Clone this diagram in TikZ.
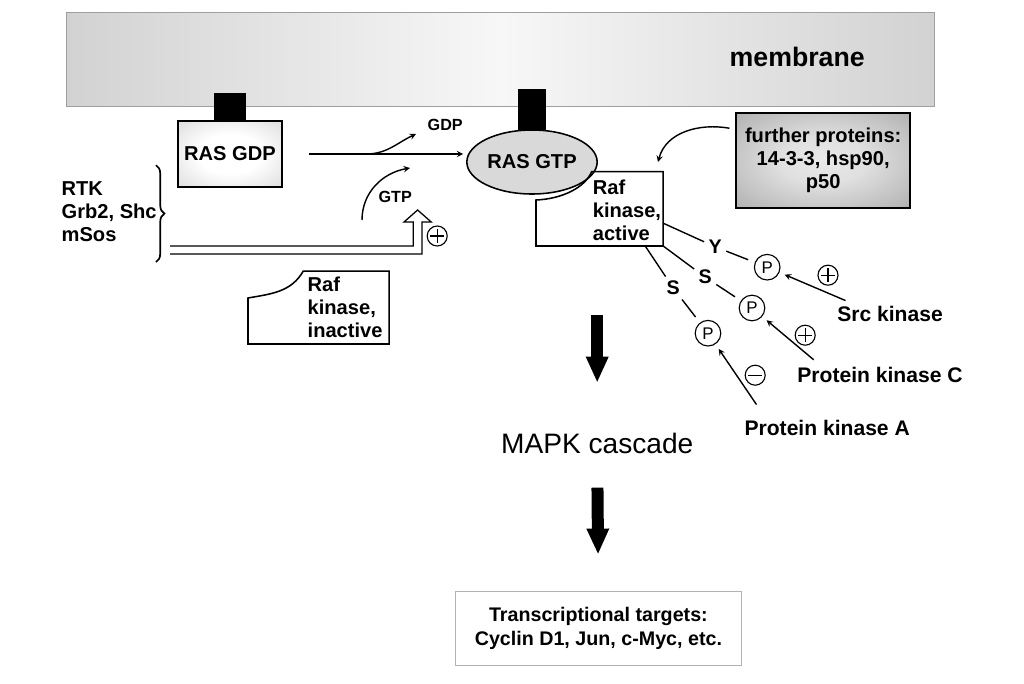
\documentclass[tikz,border=0pt]{standalone}
\usepackage{fontspec}
\setmainfont{Liberation Sans}
\definecolor{MEMgray}{HTML}{D2D2D2}
\definecolor{MEMlight}{HTML}{F7F7F7}
\definecolor{GTPgray}{HTML}{D9D9D9}
\usetikzlibrary{arrows.meta, positioning, shapes.geometric, decorations.pathreplacing, calc}
\pgfdeclareradialshading{gdpglow}{\pgfpoint{0bp}{0bp}}{color(0bp)=(white); color(15bp)=(white); color(50bp)=(black!22); color(72bp)=(black!30)}
\pgfdeclareradialshading{furtherglow}{\pgfpoint{0bp}{0bp}}{color(0bp)=(black!9); color(12bp)=(black!12); color(50bp)=(black!42); color(72bp)=(black!54)}

\begin{document}
\begin{tikzpicture}[
      lbl/.style={font=\fontsize{14.3}{16.3}\selectfont\bfseries, align=left, inner sep=1pt},
      big/.style={font=\fontsize{15}{17}\selectfont\bfseries, inner sep=1pt},
      small/.style={font=\fontsize{11.5}{13}\selectfont\bfseries, inner sep=1pt},
      res/.style={font=\fontsize{14}{16}\selectfont\bfseries, inner sep=3pt},
      phos/.style={circle, draw, line width=0.8pt, minimum size=0.64cm, inner sep=0pt,
                   font=\fontsize{12}{13}\selectfont},
      sign/.style={circle, draw, line width=0.8pt, minimum size=0.5cm, inner sep=0pt},
      plussign/.style={sign, path picture={
            \draw[line width=0.8pt] ([xshift=-0.17cm]path picture bounding box.center) -- ([xshift=0.17cm]path picture bounding box.center)
                  ([yshift=-0.17cm]path picture bounding box.center) -- ([yshift=0.17cm]path picture bounding box.center);}},
      minussign/.style={sign, path picture={
            \draw[line width=0.8pt] ([xshift=-0.17cm]path picture bounding box.center) -- ([xshift=0.17cm]path picture bounding box.center);}},
      arr/.style={->, >=stealth, line width=1pt},
      link/.style={line width=1pt},
      fat/.style={line width=0.3cm, -{Triangle[length=0.65cm 0 0, width=0.52cm 0 0]}},
      outline/.style={line width=1.1pt}]
   \useasboundingbox (0,0) rectangle (25.6,-17.075);
   % Membrane with anchors
   \node[draw=gray!75, line width=0.6pt, minimum width=21.7cm, minimum height=2.35cm,
         left color=MEMgray, right color=MEMgray, middle color=MEMlight] (mem) at (12.5,-1.475) {};
   \node[font=\fontsize{19}{22}\selectfont\bfseries] (memlbl) at (19.93,-1.43) {membrane};
   \fill (5.35,-2.33) rectangle (6.15,-3.05);
   \fill (12.95,-2.22) rectangle (13.65,-3.3);
   % RAS states
   \node[draw, outline, lbl, minimum width=2.6cm, minimum height=1.65cm,
         shading=gdpglow] (rasgdp) at (5.75,-3.85) {RAS GDP};
   \node[ellipse, draw, outline, lbl, fill=GTPgray, minimum width=2.8cm, minimum height=1.6cm] (rasgtp) at (13.3,-4.05) {RAS GTP};
   \node[draw, outline, lbl, align=center, minimum width=4.35cm, minimum height=2.37cm,
         shading=furtherglow] (further) at (20.58,-4.01) {further proteins:\\14-3-3, hsp90,\\p50};
   % Exchange GDP -> GTP
   \coordinate (gtpend) at (11.58,-3.85);
   \draw[arr, shorten <=0.65cm] (rasgdp.east) -- (gtpend);
   \coordinate (split) at (9.15,-3.85);
   \coordinate (gdptip) at (10.4,-3.35);
   \node[small] (gdp) at (11.13,-3.13) {GDP};
   \draw[arr] (split) to[out=0, in=205] (gdptip);
   \coordinate (gtpfrom) at (9.05,-5.5);
   \coordinate (gtptip) at (10.25,-4.2);
   \node[small] (gtp) at (9.88,-4.93) {GTP};
   \draw[arr] (gtpfrom) to[out=90, in=190] (gtptip);
   % RTK signal
   \node[lbl, anchor=west] (rtk) at (1.5,-5.3) {RTK\\Grb2, Shc\\mSos};
   \draw[decorate, decoration={brace, amplitude=6pt}, line width=1.2pt] (3.9,-4.13) -- (3.9,-6.55);
   \draw[line width=0.9pt] (4.25,-6.15) -- (10.33,-6.15) -- (10.33,-5.55) -- (10.1,-5.55) -- (10.44,-5.25)
         -- (10.78,-5.55) -- (10.55,-5.55) -- (10.55,-6.35) -- (4.25,-6.35);
   \node[plussign] (gef) at (10.93,-5.9) {};
   % Raf kinase, inactive and active
   \draw[outline] (6.2,-7.45) to[out=10, in=-120] (7.58,-6.78) -- (9.73,-6.78) -- (9.73,-8.6) -- (6.2,-8.6) -- cycle;
   \node[lbl, anchor=west] (rafin) at (7.65,-7.68) {Raf\\kinase,\\inactive};
   \draw[outline] (13.4,-6.15) -- (13.4,-5.0) arc[start angle=-86, end angle=-14.5, x radius=1.55cm, y radius=0.95cm]
         -- (16.58,-4.29) -- (16.58,-6.15) -- cycle;
   \node[lbl, anchor=west] (rafact) at (14.78,-5.25) {Raf\\kinase,\\active};
   \coordinate (raftip) at (16.45,-4.05);
   \draw[arr] ([xshift=-0.15cm, yshift=-0.4cm]further.north west) to[out=170, in=75] (raftip);
   % Phosphorylation sites
   \coordinate (yroot) at (16.58,-5.58);
   \coordinate (sroot) at (16.58,-6.15);
   \coordinate (sroot2) at (16.13,-6.15);
   \node[res] (ty) at (17.88,-6.17) {Y};
   \node[res] (s1) at (17.63,-6.93) {S};
   \node[res] (s2) at (16.83,-7.2) {S};
   \node[phos] (p1) at (19.18,-6.68) {P};
   \node[phos] (p2) at (18.8,-7.7) {P};
   \node[phos] (p3) at (17.7,-8.33) {P};
   \draw[link] (yroot) -- (ty);
   \draw[link, shorten >=5pt] (ty) -- (p1);
   \draw[link] (sroot) -- (s1);
   \draw[link, shorten >=5pt] (s1) -- (p2);
   \draw[link] (sroot2) -- (s2);
   \draw[link, shorten >=5pt] (s2) -- (p3);
   % Kinases
   \node[big] (src) at (22.25,-7.85) {Src kinase};
   \node[big] (pkc) at (22.0,-9.38) {Protein kinase C};
   \node[big] (pka) at (20.68,-10.7) {Protein kinase A};
   \draw[arr, shorten >=4pt] ([xshift=0.25cm, yshift=0.1cm]src.north west) -- (p1);
   \draw[arr, shorten >=4pt] ([xshift=0.45cm, yshift=0.15cm]pkc.north west) -- (p2);
   \draw[arr, shorten >=4pt] ([xshift=0.34cm, yshift=0.35cm]pka.north west) -- (p3);
   \node[plussign] (srcsign) at (20.7,-6.88) {};
   \node[plussign] (pkcsign) at (20.13,-8.38) {};
   \node[minussign] (pkasign) at (18.88,-9.38) {};
   % Cascade
   \coordinate (cascin) at (14.93,-7.88);
   \node[font=\fontsize{20}{24}\selectfont] (mapk) at (14.93,-11.08) {MAPK cascade};
   \node[draw=gray!60, line width=0.6pt, align=center, minimum width=7.17cm, minimum height=1.83cm,
         font=\fontsize{14}{17}\selectfont\bfseries] (targets) at (14.96,-15.71) {Transcriptional targets:\\Cyclin D1, Jun, c-Myc, etc.};
   \draw[fat, shorten >=1.13cm] (cascin) -- (mapk.north);
   \draw[fat, shorten <=0.73cm, shorten >=0.92cm] (mapk.south) -- (targets.north);
\end{tikzpicture}
\end{document}
